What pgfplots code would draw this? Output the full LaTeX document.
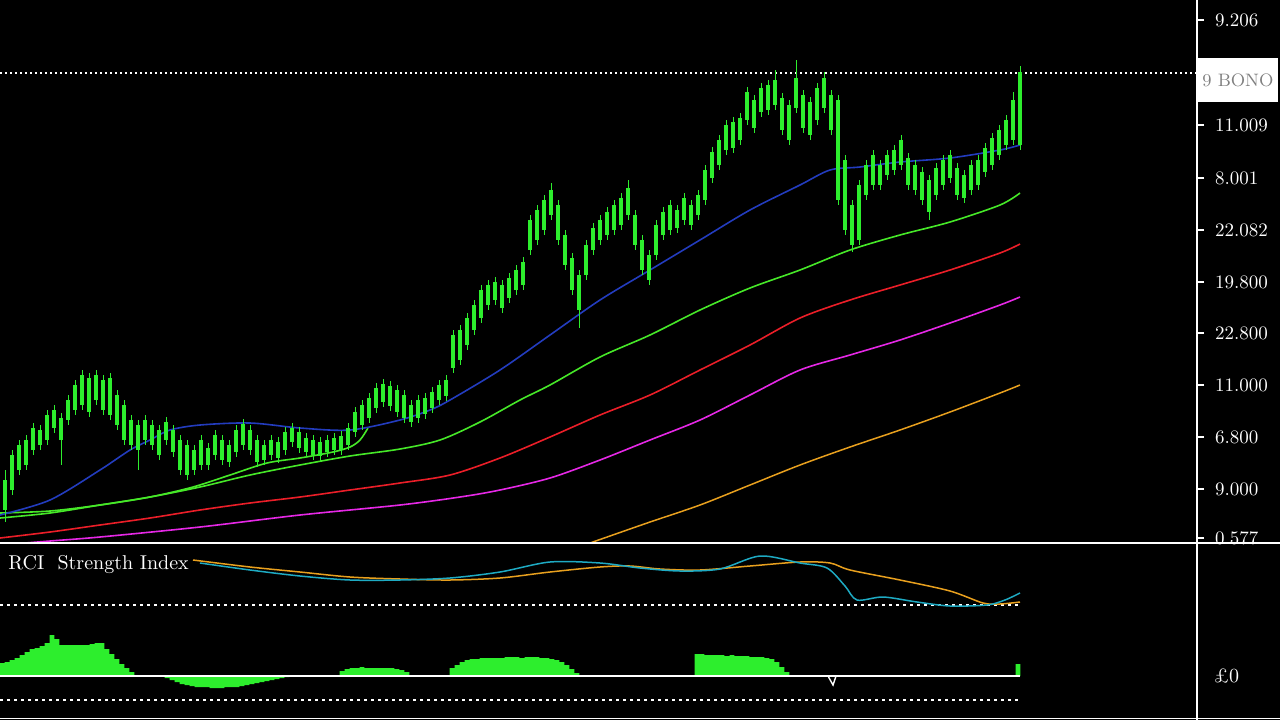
\documentclass[border=0pt]{standalone}
\usepackage{pgfplots}
\pgfplotsset{compat=1.18}
\usepackage{pgfplotstable}
\definecolor{cgreen}{RGB}{45,238,45}
\definecolor{mablue}{RGB}{35,60,190}
\definecolor{malime}{RGB}{70,232,40}
\definecolor{mared}{RGB}{235,30,40}
\definecolor{mamag}{RGB}{230,40,230}
\definecolor{maorange}{RGB}{232,160,30}
\definecolor{osteal}{RGB}{30,170,195}

\pgfplotstableread{
x bt bb
5 480 510
12 455 490
19 445 470
26 440 465
33 428 450
40 430 445
47 415 440
54 410 428
61 418 440
68 400 420
75 385 410
82 375 405
89 378 412
96 375 400
103 380 410
110 378 415
117 395 425
124 405 440
131 420 445
138 425 450
145 420 440
152 425 445
159 430 455
166 422 440
173 430 452
180 440 470
187 445 475
194 450 470
201 440 465
208 448 465
215 435 455
222 440 460
229 445 462
236 430 452
243 424 445
250 430 450
257 440 462
264 445 460
271 440 455
278 442 458
285 432 450
292 428 442
299 432 448
306 438 452
313 440 455
320 442 456
327 440 452
334 438 450
341 436 450
348 428 445
355 412 432
362 405 425
369 398 418
376 388 408
383 384 402
390 386 406
397 390 412
404 395 418
411 405 422
418 400 418
425 398 414
432 392 408
439 385 400
446 380 396
453 335 368
460 330 360
467 318 345
474 305 330
481 290 318
488 285 305
495 282 300
502 285 308
509 278 298
516 270 290
523 262 285
530 220 250
537 210 240
544 200 230
551 190 215
558 205 240
565 235 265
572 258 290
579 275 310
586 245 275
593 228 250
600 220 240
607 212 235
614 205 230
621 198 225
628 188 215
635 215 245
642 240 270
649 255 280
656 225 255
663 212 235
670 205 230
677 210 228
684 198 220
691 205 225
698 195 215
705 170 200
712 152 178
719 140 165
726 125 150
733 122 148
740 118 140
747 92 120
754 100 128
761 88 112
768 85 110
775 80 105
782 98 130
789 105 140
796 78 108
803 95 128
810 102 135
817 88 120
824 78 108
831 95 130
838 100 200
845 160 230
852 205 245
859 185 240
866 165 195
873 155 185
880 165 185
887 155 175
894 150 170
901 140 165
908 158 185
915 165 190
922 172 200
929 180 212
936 168 195
943 160 185
950 155 178
957 168 195
964 175 198
971 165 190
978 160 185
985 148 172
992 138 165
999 130 155
1006 120 145
1013 100 140
1020 72 145
}\candles

\pgfplotstableread{
x wt wb
5 470 522
61 418 465
96 370 400
138 425 470
551 183 218
579 275 328
628 180 218
649 255 285
775 70 105
796 60 108
824 72 110
852 205 252
929 180 220
1013 92 140
1020 66 145
}\longwicks

\begin{document}
\begin{tikzpicture}
\useasboundingbox (0,0) rectangle (640pt,360pt);
\fill[black] (0,0) rectangle (640pt,360pt);

% ---------- main price panel ----------
\begin{axis}[at={(0pt,360pt)}, anchor=north west,
  width=598.5pt, height=271.5pt, scale only axis,
  xmin=0, xmax=1197, ymin=0, ymax=543, y dir=reverse,
  axis x line=none, axis y line=right,
  axis line style={white, line width=0.8pt, -},
  ytick={20,125,178,230,282,333,385,437,489,538},
  yticklabels={9.206, 11.009, 8.001, 22.082, 19.800, 22.800, 11.000, 6.800, 9.000, 0.577},
  tick style={white, line width=0.8pt}, major tick length=3.5pt, tick align=outside,
  yticklabel style={white, font=\fontsize{9.5}{10}\selectfont, xshift=2pt},
  /pgf/number format/assume math mode=true]

\addplot[white, line width=0.6pt, dash pattern=on 1.2pt off 1.3pt] coordinates {(0,73) (1197,73)};

% moving averages
\addplot[maorange, line width=0.75pt, smooth] coordinates {(590,543) (650,522) (700,505) (750,485) (800,465) (850,447) (900,430) (950,412) (1000,393) (1020,385)};
\addplot[mamag, line width=0.8pt, smooth] coordinates {(0,545) (50,541) (100,537) (200,527) (300,515) (400,505) (460,497) (500,490) (550,478) (600,460) (650,440) (700,420) (750,395) (800,370) (850,355) (900,340) (950,323) (1000,305) (1020,297)};
\addplot[mared, line width=0.8pt, smooth] coordinates {(0,538) (50,532) (100,525) (150,518) (200,510) (250,503) (300,497) (350,490) (400,483) (450,475) (500,458) (550,437) (600,415) (650,395) (700,370) (750,345) (800,318) (850,300) (900,285) (950,270) (1000,253) (1020,244)};
\addplot[malime, line width=0.8pt, smooth] coordinates {(0,518) (50,513) (100,505) (150,497) (200,487) (250,475) (300,465) (350,456) (400,449) (440,440) (480,422) (520,400) (550,385) (600,357) (650,335) (700,310) (750,288) (800,270) (850,250) (900,235) (950,222) (1000,205) (1020,193)};
\addplot[malime, line width=0.8pt, smooth] coordinates {(0,513) (50,511) (100,505) (150,497) (193,487) (230,475) (267,463) (300,458) (333,452) (350,447) (360,440) (368,428)};
\addplot[mablue, line width=0.8pt, smooth] coordinates {(0,515) (50,500) (100,470) (130,450) (150,440) (170,430) (200,425) (250,423) (300,428) (350,430) (400,420) (430,410) (450,400) (500,370) (550,335) (600,300) (650,270) (700,240) (750,210) (800,185) (830,170) (860,167) (900,162) (950,158) (1000,150) (1020,145)};

% candle wicks
\addplot[draw=none, no markers, forget plot,
  error bars/.cd, y dir=both, y explicit, error mark=none,
  error bar style={line width=0.5pt, draw=cgreen, solid}]
  table[x=x, y expr=(\thisrow{bt}+\thisrow{bb})/2, y error expr=(\thisrow{bb}-\thisrow{bt})/2+5] {\candles};
\addplot[draw=none, no markers, forget plot,
  error bars/.cd, y dir=both, y explicit, error mark=none,
  error bar style={line width=0.5pt, draw=cgreen, solid}]
  table[x=x, y expr=(\thisrow{wt}+\thisrow{wb})/2, y error expr=(\thisrow{wb}-\thisrow{wt})/2] {\longwicks};
% candle bodies
\addplot[draw=none, no markers, forget plot,
  error bars/.cd, y dir=both, y explicit, error mark=none,
  error bar style={line width=2.2pt, draw=cgreen, solid, line cap=butt}]
  table[x=x, y expr=(\thisrow{bt}+\thisrow{bb})/2, y error expr=(\thisrow{bb}-\thisrow{bt})/2] {\candles};
\end{axis}

% ---------- lower oscillator panel ----------
\begin{axis}[at={(0pt,88.5pt)}, anchor=north west,
  width=598.5pt, height=87.5pt, scale only axis,
  xmin=0, xmax=1197, ymin=-42, ymax=133,
  axis x line=none, axis y line=right, axis line style={draw=none},
  ytick={0}, yticklabels={\pounds0}, major tick length=0pt,
  yticklabel style={white, font=\fontsize{10}{11}\selectfont, xshift=5pt}]

\addplot[white, line width=0.6pt, dash pattern=on 1.5pt off 2pt] coordinates {(0,71) (1020,71)};
\addplot[white, line width=0.6pt, dash pattern=on 1.5pt off 2pt] coordinates {(0,-24) (1020,-24)};

\addplot[maorange, line width=0.75pt, smooth] coordinates {(193,116) (250,109) (300,104) (350,99) (400,97) (450,96) (500,98) (550,104) (600,109) (630,110) (660,107) (700,106) (750,110) (800,114) (830,113) (850,106) (900,96) (950,85) (983,73) (1000,72) (1020,74)};
\addplot[osteal, line width=0.75pt, smooth] coordinates {(200,113) (250,106) (300,100) (350,96) (400,96) (450,98) (500,104) (550,114) (600,113) (640,108) (680,105) (720,107) (760,120) (800,113) (827,108) (845,90) (857,76) (883,79) (917,74) (950,70) (987,71) (1005,76) (1020,83)};

\addplot[ybar, bar width=2.3pt, bar shift=0pt, fill=cgreen, draw=none] coordinates {
(2,13) (7,14) (12,16) (17,18) (22,21) (27,24) (32,27) (37,28) (42,30) (47,33) (52,41) (57,37) (62,31) (67,31) (72,31) (77,31) (82,31) (87,31) (92,32) (97,33) (102,33) (107,27) (112,22) (117,17) (122,12) (127,8) (132,4) (137,1)
(167,-2) (172,-4) (177,-6) (182,-8) (187,-9) (192,-10) (197,-11) (202,-11) (207,-11) (212,-12) (217,-12) (222,-12) (227,-11) (232,-11) (237,-11) (242,-10) (247,-9) (252,-8) (257,-7) (262,-6) (267,-5) (272,-4) (277,-3) (282,-2) (287,-1)
(342,5) (347,7) (352,8) (357,8) (362,9) (367,8) (372,8) (377,8) (382,8) (387,8) (392,8) (397,7) (402,6) (407,4)
(452,8) (457,11) (462,14) (467,16) (472,17) (477,17) (482,18) (487,18) (492,18) (497,18) (502,18) (507,19) (512,19) (517,19) (522,18) (527,19) (532,19) (537,19) (542,18) (547,18) (552,17) (557,16) (562,14) (567,11) (572,7) (577,3)
(697,22) (702,22) (707,21) (712,21) (717,21) (722,21) (727,20) (732,21) (737,20) (742,20) (747,20) (752,19) (757,19) (762,19) (767,18) (772,17) (777,14) (782,9) (787,4)
(1018,12)};

\addplot[white, line width=1pt] coordinates {(0,0) (1020,0)};
\addplot[white, line width=0.7pt] coordinates {(828,0) (833,-9) (836,0)};
\end{axis}

% frame lines
\draw[white, line width=0.8pt] (0,88.5pt) -- (640pt,88.5pt);
\draw[white, line width=0.8pt] (598.5pt,0) -- (598.5pt,360pt);
\draw[white, line width=0.8pt] (0,0.8pt) -- (640pt,0.8pt);

% price highlight box
\node[fill=white, minimum width=40.5pt, minimum height=22pt, inner sep=0pt, anchor=west,
  text=gray, font=\fontsize{9}{10}\selectfont] at (598.5pt,320pt) {9 BONO};

% panel title
\node[anchor=west, text=white, inner sep=0pt, font=\fontsize{10}{12}\selectfont] at (4pt,77.5pt) {RCI\ \ Strength Index};
\end{tikzpicture}
\end{document}
